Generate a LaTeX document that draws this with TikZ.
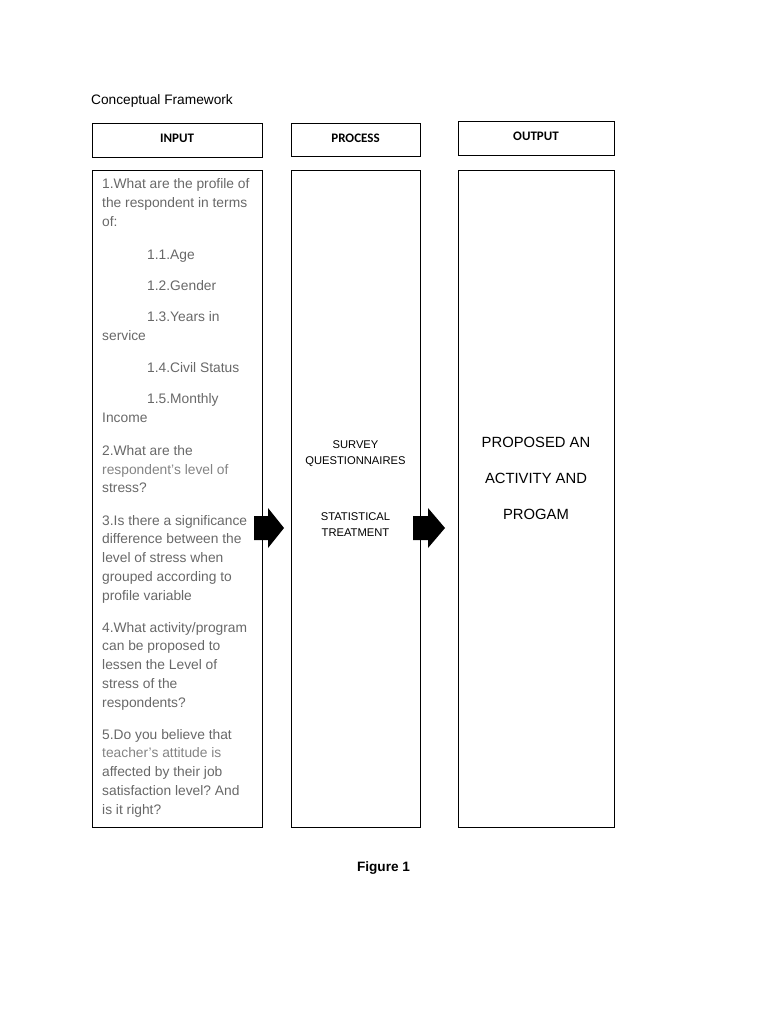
\documentclass[tikz,border=0pt]{standalone}
\usepackage{fontspec}
\setmainfont{Liberation Sans}
\newfontfamily\hdfont{Carlito}
\frenchspacing
\begin{document}
\begin{tikzpicture}[x=1pt,y=-1pt,
  box/.style={draw=black,line width=1pt,rectangle,inner sep=0pt},
  hdtxt/.style={anchor=base,inner sep=0pt,font=\hdfont\fontsize{13}{15}\selectfont\bfseries},
  itxt/.style={anchor=base west,inner sep=0pt,text=ingray,font=\fontsize{13.8}{16}\selectfont},
  ltxt/.style={itxt,text=inlight},
  ptxt/.style={anchor=base,inner sep=0pt,font=\fontsize{11.2}{13}\selectfont},
  otxt/.style={anchor=base,inner sep=0pt,font=\fontsize{14.8}{17}\selectfont},
  blockarrow/.style={fill=black,draw=none}]
\definecolor{ingray}{RGB}{104,104,104}
\definecolor{inlight}{RGB}{132,132,132}
\useasboundingbox (0,0) rectangle (768,1024);

\node[anchor=base west,inner sep=0pt,font=\fontsize{13.7}{16}\selectfont] (title) at (91,105) {Conceptual Framework};

% header boxes
\node[box,minimum width=170,minimum height=34] (inhead) at (177,141) {};
\node[box,minimum width=129,minimum height=33] (prhead) at (355.5,140.5) {};
\node[box,minimum width=156,minimum height=34] (outhead) at (536,139) {};
\node[hdtxt] (inheadt) at (177,142.3) {INPUT};
\node[hdtxt] (prheadt) at (355.5,143) {PROCESS};
\node[hdtxt] (outheadt) at (536,140.3) {OUTPUT};

% body boxes
\node[box,minimum width=170,minimum height=656] (inbody) at (177,499) {};
\node[box,minimum width=129,minimum height=656] (prbody) at (355.5,499) {};
\node[box,minimum width=156,minimum height=656] (outbody) at (536,499) {};

% input text
\node[itxt] (i01) at (102,189) {1.What are the profile of};
\node[itxt] (i02) at (102,207.75) {the respondent in terms};
\node[itxt] (i03) at (102,226.5) {of:};
\node[itxt] (i04) at (147,259) {1.1.Age};
\node[itxt] (i05) at (147,290) {1.2.Gender};
\node[itxt] (i06) at (147,321) {1.3.Years in};
\node[itxt] (i07) at (102,340) {service};
\node[itxt] (i08) at (147,372) {1.4.Civil Status};
\node[itxt] (i09) at (147,403.5) {1.5.Monthly};
\node[itxt] (i10) at (102,422.5) {Income};
\node[itxt] (i11) at (102,455) {2.What are the};
\node[ltxt] (i12) at (102,474) {respondent's level of};
\node[itxt] (i13) at (102,492.5) {stress?};
\node[itxt] (i14) at (102,525) {3.Is there a significance};
\node[itxt] (i15) at (102,543.75) {difference between the};
\node[itxt] (i16) at (102,562.5) {level of stress when};
\node[itxt] (i17) at (102,581.25) {grouped according to};
\node[itxt] (i18) at (102,600) {profile variable};
\node[itxt] (i19) at (102,632) {4.What activity/program};
\node[itxt] (i20) at (102,650.75) {can be proposed to};
\node[itxt] (i21) at (102,669.5) {lessen the Level of};
\node[itxt] (i22) at (102,688.25) {stress of the};
\node[itxt] (i23) at (102,707) {respondents?};
\node[itxt] (i24) at (102,739) {5.Do you believe that};
\node[ltxt] (i25) at (102,757.75) {teacher's attitude is};
\node[itxt] (i26) at (102,776.5) {affected by their job};
\node[itxt] (i27) at (102,795.25) {satisfaction level? And};
\node[itxt] (i28) at (102,814) {is it right?};

% process text
\node[ptxt] (p1) at (355.5,448) {SURVEY};
\node[ptxt] (p2) at (355.5,464) {QUESTIONNAIRES};
\node[ptxt] (p3) at (355.5,520) {STATISTICAL};
\node[ptxt] (p4) at (355.5,536) {TREATMENT};

% output text
\node[otxt] (o1) at (536,447) {PROPOSED AN};
\node[otxt] (o2) at (536,483) {ACTIVITY AND};
\node[otxt] (o3) at (536,519) {PROGAM};

% block arrows
\fill[blockarrow] (254,516) -- (268,516) -- (268,508) -- (284,528) -- (268,548) -- (268,540) -- (254,540) -- cycle;
\fill[blockarrow] (413,516) -- (428,516) -- (428,508) -- (445,528) -- (428,548) -- (428,540) -- (413,540) -- cycle;

\node[anchor=base,inner sep=0pt,font=\fontsize{13.6}{16}\selectfont\bfseries] (fig) at (383.5,871) {Figure 1};
\end{tikzpicture}
\end{document}
